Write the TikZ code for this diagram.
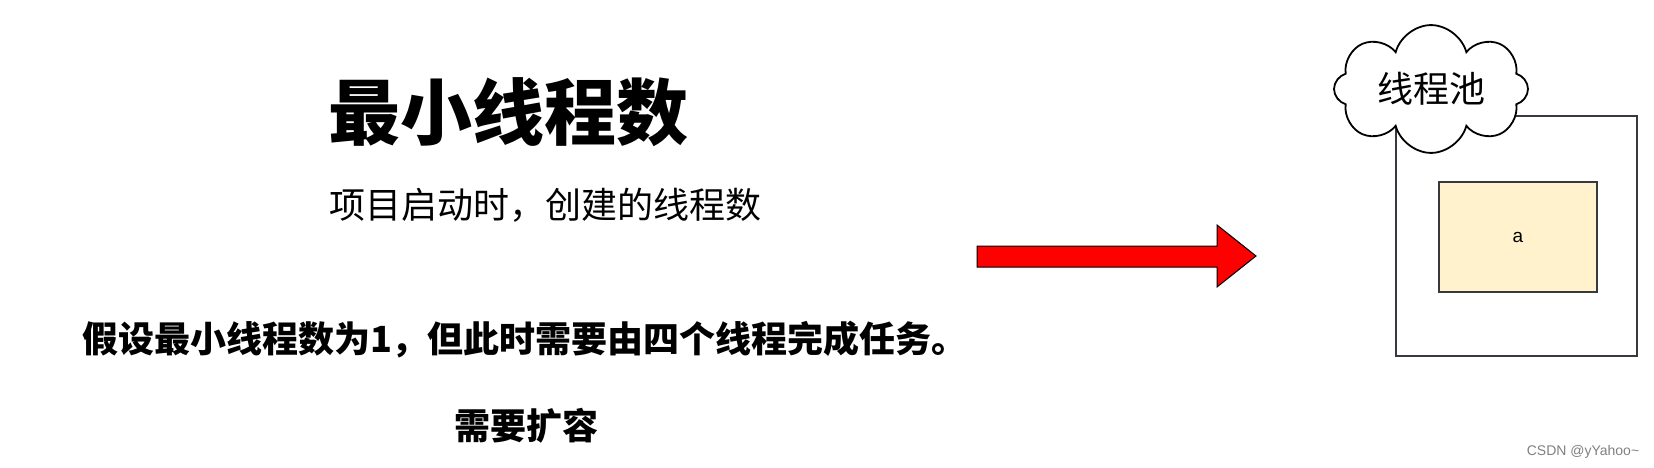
\documentclass[tikz,border=0pt]{standalone}
\usepackage{fontspec}
\usepackage{tikz}
\usetikzlibrary{shapes.symbols, positioning}
\setmainfont{Liberation Sans}
\newfontfamily\cjk{Noto Sans CJK SC}
\definecolor{poolline}{HTML}{36393D}
\definecolor{taskfill}{HTML}{FFF2CC}
\tikzset{
	bigtitle/.style={font=\cjk\bfseries\fontsize{72}{86}\selectfont},
	plaintext/.style={font=\cjk\fontsize{36}{43}\selectfont},
	boldtext/.style={font=\cjk\bfseries\fontsize{36}{43}\selectfont},
	poolbox/.style={draw=poolline, line width=2pt},
	baseline}

\begin{document}
\begin{tikzpicture}[x=1pt, y=-1pt]
		\useasboundingbox (0,0) rectangle (1654,468);
		%text
		\node[bigtitle] (title) at (508,112) {最小线程数};
		\node[plaintext] (sub) at (545,205) {项目启动时，创建的线程数};
		\node[boldtext] (case) at (525,340) {假设最小线程数为1，但此时需要由四个线程完成任务。};
		\node[boldtext] (expand) at (526,426) {需要扩容};
		
		%arrow
		\filldraw[fill=red, draw=black, line width=1pt]
		(977,246) -- (1217,246) -- (1217,225) -- (1256,256)
		-- (1217,287) -- (1217,267) -- (977,267) -- cycle;
		
		%pool
		\node[poolbox, minimum width=241, minimum height=240] (outer) at (1516.5,236) {};
		\node[poolbox, fill=taskfill, minimum width=158, minimum height=110,
			font=\fontsize{19}{19}\selectfont] (task) at (1518,237) {a};
		\node[cloud, draw, fill=white, line width=1.8pt, cloud puffs=8, aspect=1.7,
			minimum width=194, minimum height=120, inner sep=0pt,
			font=\cjk\fontsize{36}{43}\selectfont] (pool) at (1431,89) {线程池};
		
		\node[text=gray, font=\fontsize{14}{14}\selectfont] (mark) at (1583,452) {CSDN @yYahoo\textasciitilde};
	\end{tikzpicture}
\end{document}
